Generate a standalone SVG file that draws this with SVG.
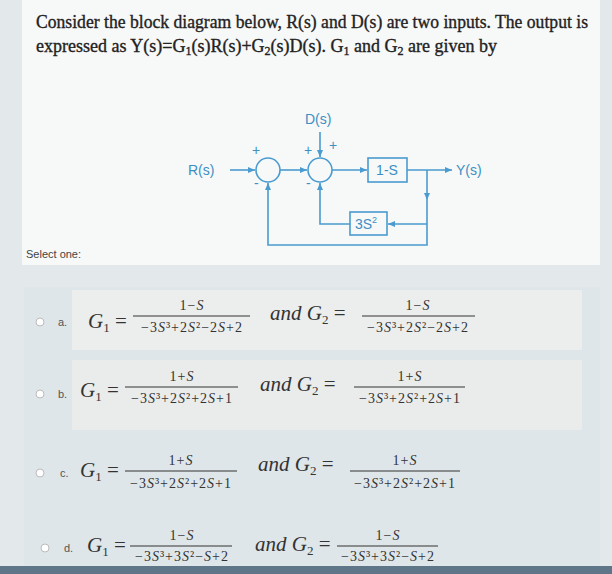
<svg xmlns="http://www.w3.org/2000/svg" width="612" height="574" viewBox="0 0 612 574">
<style>
.q{font-family:"Liberation Serif",serif;font-size:18px;fill:#222;stroke:#222;stroke-width:0.35}
.d{font-family:"Liberation Sans",sans-serif;font-size:14px;fill:#3d8fc4}
.ln{stroke:#4a9bd0;stroke-width:1.6;fill:none}
.m{font-family:"Liberation Serif",serif;fill:#333}
.g{font-size:21px;font-style:italic}
.f{font-size:14px;text-anchor:middle;letter-spacing:1px}
.lbl{font-family:"Liberation Sans",sans-serif;font-size:11px;fill:#555}
.rad{fill:#fff;stroke:#bbb;stroke-width:1}
.bar{stroke:#333;stroke-width:1.2}
</style>
<defs><marker id="ar" markerWidth="8" markerHeight="8" refX="7" refY="4" orient="auto" markerUnits="userSpaceOnUse"><path d="M0,1 L7,4 L0,7 z" fill="#4a9bd0"/></marker></defs>
<rect width="612" height="574" fill="#e3e8ea"/>
<rect x="22" y="0" width="578" height="265" fill="#f7f8f8"/>
<rect x="24" y="287" width="576" height="282" fill="#dfe6e9"/>
<rect x="72" y="290" width="510" height="60" fill="#eceeed"/>
<rect x="72" y="360" width="510" height="70" fill="#eaecec"/>
<rect x="0" y="566" width="612" height="8" fill="#5f7689"/>
<text class="q" x="36" y="28" textLength="552" lengthAdjust="spacingAndGlyphs">Consider the block diagram below, R(s) and D(s) are two inputs. The output is</text>
<text class="q" x="36" y="52">expressed as Y(s)=G<tspan font-size="12" dy="3">1</tspan><tspan dy="-3">(s)R(s)+G</tspan><tspan font-size="12" dy="3">2</tspan><tspan dy="-3">(s)D(s). G</tspan><tspan font-size="12" dy="3">1</tspan><tspan dy="-3"> and G</tspan><tspan font-size="12" dy="3">2</tspan><tspan dy="-3"> are given by</tspan></text>
<g id="connectors">
<line class="ln" x1="230" y1="170" x2="255" y2="170" marker-end="url(#ar)"/>
<line class="ln" x1="280" y1="170" x2="307" y2="170" marker-end="url(#ar)"/>
<line class="ln" x1="320" y1="132" x2="320" y2="157" marker-end="url(#ar)"/>
<line class="ln" x1="332" y1="170" x2="367" y2="170" marker-end="url(#ar)"/>
<line class="ln" x1="407" y1="170" x2="452" y2="170" marker-end="url(#ar)"/>
<line class="ln" x1="427" y1="170" x2="427" y2="200" marker-end="url(#ar)"/>
<polyline class="ln" points="427,200 427,245 268,245 268,183" marker-end="url(#ar)"/>
<polyline class="ln" points="427,224 388,224" marker-end="url(#ar)"/>
<polyline class="ln" points="350,224 320,224 320,183" marker-end="url(#ar)"/>
</g>
<g id="sum1"><circle class="ln" cx="268" cy="170" r="12"/><text class="d" x="252" y="155">+</text><text class="d" x="254" y="188" font-size="10">-</text></g>
<g id="sum2"><circle class="ln" cx="320" cy="170" r="12"/><text class="d" x="304" y="155">+</text><text class="d" x="329" y="150">+</text><text class="d" x="306" y="188" font-size="10">-</text></g>
<g id="R"><text class="d" x="188" y="175">R(s)</text></g>
<g id="D"><text class="d" x="305" y="124">D(s)</text></g>
<g id="Y"><text class="d" x="456" y="175">Y(s)</text></g>
<g id="G"><rect class="ln" x="368" y="158" width="39" height="24"/><text class="d" x="387" y="175" text-anchor="middle">1-S</text></g>
<g id="H"><rect class="ln" x="350" y="212" width="37" height="23"/><text class="d" x="366" y="229" text-anchor="middle">3S<tspan font-size="9" dy="-6">2</tspan></text></g>
<text x="26" y="258" font-family="Liberation Sans,sans-serif" font-size="11" fill="#444">Select one:</text>
<g id="a">
<circle class="rad" cx="40" cy="322" r="4"/><text class="lbl" x="58" y="326">a.</text>
<text class="m g" x="88" y="328">G<tspan font-size="13" dy="4" font-style="normal">1</tspan><tspan dy="-4" font-style="normal"> =</tspan></text>
<text class="m f" x="192" y="310">1−<tspan font-style="italic">S</tspan></text><line class="bar" x1="133" y1="316" x2="250" y2="316"/><text class="m f" x="192" y="332">−3<tspan font-style="italic">S</tspan>³+2<tspan font-style="italic">S</tspan>²−2<tspan font-style="italic">S</tspan>+2</text>
<text class="m g" x="270" y="320">and G<tspan font-size="13" dy="4" font-style="normal">2</tspan><tspan dy="-4" font-style="normal"> =</tspan></text>
<text class="m f" x="418" y="310">1−<tspan font-style="italic">S</tspan></text><line class="bar" x1="362" y1="316" x2="475" y2="316"/><text class="m f" x="418" y="332">−3<tspan font-style="italic">S</tspan>³+2<tspan font-style="italic">S</tspan>²−2<tspan font-style="italic">S</tspan>+2</text>
</g>
<g id="b">
<circle class="rad" cx="40" cy="394" r="4"/><text class="lbl" x="58" y="398">b.</text>
<text class="m g" x="80" y="397">G<tspan font-size="13" dy="4" font-style="normal">1</tspan><tspan dy="-4" font-style="normal"> =</tspan></text>
<text class="m f" x="182" y="381">1+<tspan font-style="italic">S</tspan></text><line class="bar" x1="125" y1="387" x2="238" y2="387"/><text class="m f" x="182" y="403">−3<tspan font-style="italic">S</tspan>³+2<tspan font-style="italic">S</tspan>²+2<tspan font-style="italic">S</tspan>+1</text>
<text class="m g" x="260" y="391">and G<tspan font-size="13" dy="4" font-style="normal">2</tspan><tspan dy="-4" font-style="normal"> =</tspan></text>
<text class="m f" x="410" y="381">1+<tspan font-style="italic">S</tspan></text><line class="bar" x1="354" y1="387" x2="465" y2="387"/><text class="m f" x="410" y="403">−3<tspan font-style="italic">S</tspan>³+2<tspan font-style="italic">S</tspan>²+2<tspan font-style="italic">S</tspan>+1</text>
</g>
<g id="c">
<circle class="rad" cx="40" cy="473" r="4"/><text class="lbl" x="60" y="477">c.</text>
<text class="m g" x="80" y="477">G<tspan font-size="13" dy="4" font-style="normal">1</tspan><tspan dy="-4" font-style="normal"> =</tspan></text>
<text class="m f" x="181" y="465">1+<tspan font-style="italic">S</tspan></text><line class="bar" x1="125" y1="471" x2="237" y2="471"/><text class="m f" x="181" y="488">−3<tspan font-style="italic">S</tspan>³+2<tspan font-style="italic">S</tspan>²+2<tspan font-style="italic">S</tspan>+1</text>
<text class="m g" x="258" y="471">and G<tspan font-size="13" dy="4" font-style="normal">2</tspan><tspan dy="-4" font-style="normal"> =</tspan></text>
<text class="m f" x="405" y="465">1+<tspan font-style="italic">S</tspan></text><line class="bar" x1="350" y1="471" x2="460" y2="471"/><text class="m f" x="405" y="488">−3<tspan font-style="italic">S</tspan>³+2<tspan font-style="italic">S</tspan>²+2<tspan font-style="italic">S</tspan>+1</text>
</g>
<g id="d">
<circle class="rad" cx="45" cy="548" r="4"/><text class="lbl" x="64" y="552">d.</text>
<text class="m g" x="87" y="552">G<tspan font-size="13" dy="4" font-style="normal">1</tspan><tspan dy="-4" font-style="normal"> =</tspan></text>
<text class="m f" x="182" y="540">1−<tspan font-style="italic">S</tspan></text><line class="bar" x1="130" y1="546" x2="232" y2="546"/><text class="m f" x="182" y="561">−3<tspan font-style="italic">S</tspan>³+3<tspan font-style="italic">S</tspan>²−<tspan font-style="italic">S</tspan>+2</text>
<text class="m g" x="255" y="551">and G<tspan font-size="13" dy="4" font-style="normal">2</tspan><tspan dy="-4" font-style="normal"> =</tspan></text>
<text class="m f" x="388" y="540">1−<tspan font-style="italic">S</tspan></text><line class="bar" x1="337" y1="546" x2="438" y2="546"/><text class="m f" x="388" y="561">−3<tspan font-style="italic">S</tspan>³+3<tspan font-style="italic">S</tspan>²−<tspan font-style="italic">S</tspan>+2</text>
</g>
</svg>
